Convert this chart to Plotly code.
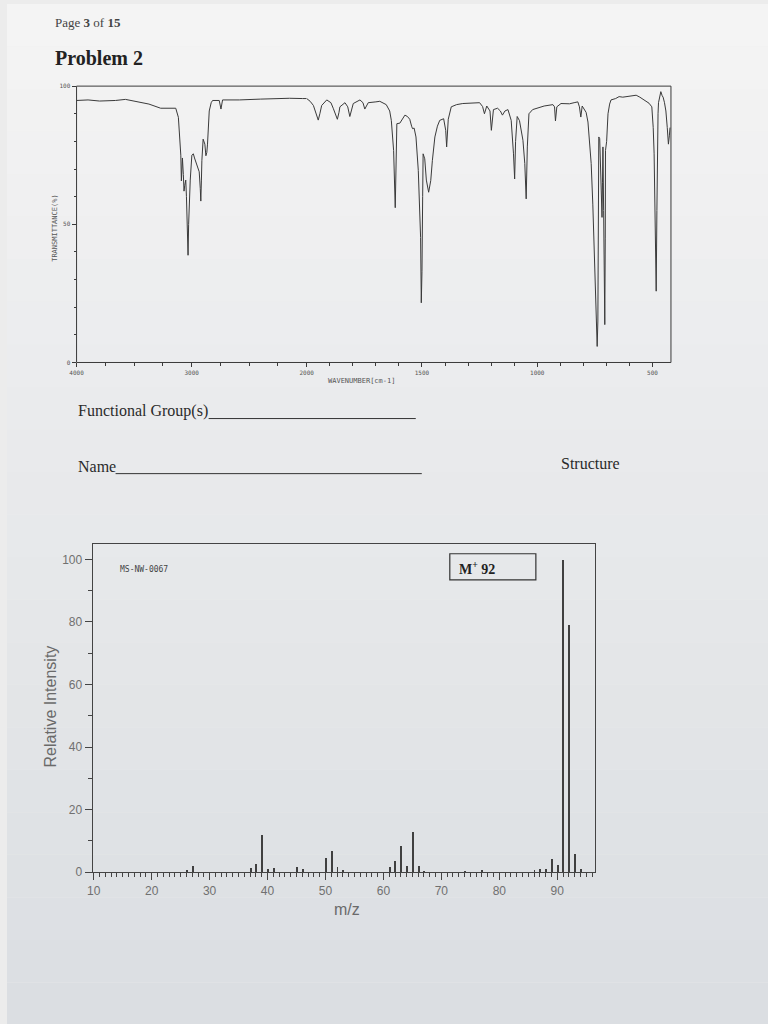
"""Worksheet page: IR spectrum and mass spectrum (Problem 2)."""
import plotly.graph_objects as go

# the photographed page comes out shifted and shrunk a little, so positions
# are given in window pixels and mapped back through that offset and scale
OX, OY, SX, SY = 7.5, 4.0, 0.98, 0.988
W, H = 776, 1032

# IR spectrum (wavenumber in cm-1, transmittance in %)
ir_wavenumber = [
    4000, 3900, 3800, 3662, 3575, 3480, 3371, 3269, 3200, 3138, 3115, 3100, 3094,
    3089, 3084, 3080, 3072, 3066, 3060, 3051, 3045, 3039, 3031, 3026, 3022, 3012,
    2998, 2985, 2975, 2960, 2949, 2934, 2925, 2920, 2915, 2911, 2900, 2885, 2876,
    2868, 2862, 2855, 2847, 2830, 2818, 2760, 2745, 2731, 2585, 2400, 2294, 2150,
    2035, 2000,
    1985, 1971, 1958, 1950, 1943, 1935, 1913, 1895, 1885, 1875, 1867, 1860, 1856,
    1834, 1822, 1813, 1806, 1798, 1769, 1756, 1748, 1740, 1733, 1700, 1683, 1655,
    1640, 1633, 1627, 1623, 1616, 1612, 1609, 1596, 1585, 1574, 1563, 1553, 1545,
    1541, 1534, 1530, 1526, 1516, 1506, 1503, 1500, 1497, 1495, 1488, 1481, 1471,
    1462, 1455, 1444, 1433, 1423, 1406, 1400, 1397, 1393, 1389, 1386, 1373, 1350,
    1323, 1280, 1250, 1237, 1229, 1219, 1205, 1199, 1194, 1190, 1172, 1160, 1151,
    1140, 1127, 1113, 1103, 1098, 1094, 1087, 1077, 1062, 1054, 1048, 1043, 1036,
    1020, 1004, 970, 932, 925, 921, 915, 897, 860, 840, 824, 817, 811, 805, 795,
    788, 780, 774, 766, 759, 753, 748, 742, 740, 737, 735, 733, 729, 727, 723, 719,
    717, 715, 712, 710, 707, 705, 704, 699, 693, 686, 680, 660, 645, 629, 610, 590,
    571, 555, 540, 528, 515, 503, 497, 493, 489, 484, 481, 480, 476, 474, 468, 464,
    458, 454, 448, 442, 436, 431, 427, 424,
]
ir_transmittance = [
    94.8, 95.0, 94.6, 94.8, 95.2, 94.5, 93.5, 92.0, 92.0, 92.0, 88.7, 80.0, 75.0,
    65.7, 72.0, 74.0, 68.0, 62.0, 64.0, 66.0, 60.0, 51.0, 38.8, 50.0, 55.8, 66.0,
    75.0, 75.5, 74.0, 72.0, 70.4, 69.0, 63.0, 58.4, 66.0, 73.0, 80.8, 79.0, 74.8,
    76.0, 79.0, 86.0, 91.0, 94.0, 94.8, 94.8, 91.7, 95.0, 95.0, 95.3, 95.5, 95.6,
    95.5, 95.5,
    94.5, 93.0, 89.5, 87.7, 90.0, 93.0, 95.0, 94.0, 92.0, 89.5, 88.0, 90.5, 92.5,
    94.0, 92.5, 89.0, 91.0, 93.7, 95.0, 94.0, 91.7, 93.0, 94.0, 94.3, 94.5, 93.3,
    91.0, 87.6, 82.0, 76.7, 56.0, 70.0, 86.4, 86.6, 88.0, 89.5, 89.0, 88.0, 85.5,
    84.6, 84.8, 83.0, 81.6, 69.5, 45.2, 21.6, 33.0, 60.0, 75.5, 73.7, 66.0, 61.6,
    65.8, 73.0, 81.6, 85.5, 87.6, 88.2, 86.0, 84.0, 78.0, 84.0, 88.0, 92.5, 93.3,
    93.7, 94.0, 94.0, 92.6, 90.0, 92.8, 91.0, 84.0, 88.0, 91.5, 92.0, 91.0, 89.5,
    91.0, 91.5, 87.6, 75.5, 66.4, 80.0, 89.0, 87.5, 80.4, 72.0, 59.2, 78.0, 90.0,
    91.5, 92.0, 92.8, 93.3, 92.5, 87.4, 92.5, 93.7, 93.6, 94.0, 94.3, 92.5, 88.8,
    92.8, 91.5, 90.5, 87.0, 81.6, 72.0, 57.3, 42.0, 27.0, 13.7, 5.8, 15.0, 60.0,
    81.6, 81.0, 75.0, 63.4, 52.5, 65.0, 78.0, 55.0, 33.0, 13.7, 45.0, 76.7, 80.0,
    90.0, 93.5, 95.0, 95.5, 96.2, 96.0, 96.3, 96.5, 96.7, 96.0, 95.2, 94.5, 93.8,
    92.5, 85.0, 75.5, 52.0, 25.8, 55.0, 70.0, 90.0, 94.0, 97.0, 98.0, 96.5, 96.0,
    94.0, 91.0, 85.0, 79.0, 82.0, 85.0,
]

# mass spectrum (m/z, relative intensity)
ms_mz = [26, 27, 37, 38, 39, 40, 41, 45, 46, 50, 51, 52, 53, 61, 62, 63, 64, 65,
         66, 67, 74, 77, 86, 87, 88, 89, 90, 91, 92, 93, 94]
ms_intensity = [0.8, 2.2, 1.5, 2.7, 12.0, 1.0, 1.3, 1.6, 1.0, 4.5, 7.0, 1.8, 0.8,
                1.9, 3.7, 8.3, 2.1, 13.0, 2.0, 0.6, 0.6, 0.8, 0.8, 1.0, 1.0, 4.2,
                2.4, 100.0, 79.0, 5.8, 1.0]

ir_ticks_left = [4000, 3000, 2000]
ir_ticks_right = [1500, 1000, 500]
ir_yticks = [0, 50, 100]
ms_xticks = [10, 20, 30, 40, 50, 60, 70, 80, 90]
ms_yticks = [0, 20, 40, 60, 80, 100]


def px(x):
    # window pixel -> paper fraction
    return (x - OX) / SX / W


def py(y):
    return 1 - (y - OY) / SY / H


INK = "#3a3a3a"
MONO = dict(family="DejaVu Sans Mono", size=6, color="#555")
SANS = dict(family="Liberation Sans", size=12, color="#707070")
SERIF = "Liberation Serif"

fig = go.Figure()

left = [(w, t) for w, t in zip(ir_wavenumber, ir_transmittance) if w >= 2000]
right = [(w, t) for w, t in zip(ir_wavenumber, ir_transmittance) if w <= 2000]
fig.add_trace(go.Scatter(
    x=[p[0] for p in left], y=[p[1] for p in left], xaxis="x", yaxis="y",
    mode="lines", line=dict(color=INK, width=1), showlegend=False,
))
fig.add_trace(go.Scatter(
    x=[p[0] for p in right], y=[p[1] for p in right], xaxis="x2", yaxis="y",
    mode="lines", line=dict(color=INK, width=1), showlegend=False,
))
fig.add_trace(go.Bar(
    x=ms_mz, y=ms_intensity, xaxis="x3", yaxis="y3", width=0.17,
    marker=dict(color="#404040", line_width=0), showlegend=False,
))

ir_axis = dict(
    ticks="outside", ticklen=4, tickcolor=INK, tickwidth=1, showgrid=False,
    zeroline=False, showline=False, tickfont=MONO,
)
ms_axis = dict(
    ticks="outside", ticklen=7, tickcolor="#444", showgrid=False, zeroline=False,
    showline=True, mirror=True, linecolor="#444", linewidth=1, tickfont=SANS,
)

# paper colour: light at the top, greyer toward the bottom of the photo
bands = []
n = 24
top, bottom = (244, 244, 244), (219, 222, 226)
for i in range(n):
    f = i / (n - 1)
    c = tuple(round(a + (b - a) * f) for a, b in zip(top, bottom))
    bands.append(dict(
        type="rect", xref="paper", yref="paper", layer="below",
        x0=0, x1=1, y0=1 - (i + 1) / n, y1=1 - i / n,
        fillcolor="rgb(%d,%d,%d)" % c, line_width=0,
    ))

shapes = bands + [
    # IR frame
    dict(type="rect", xref="paper", yref="paper", x0=px(77), x1=px(671),
         y0=py(362), y1=py(86), line=dict(color=INK, width=1)),
    # answer lines
    dict(type="line", xref="paper", yref="paper", x0=px(209), x1=px(416),
         y0=py(418), y1=py(418), line=dict(color="#333", width=1)),
    dict(type="line", xref="paper", yref="paper", x0=px(116), x1=px(422),
         y0=py(473), y1=py(473), line=dict(color="#333", width=1)),
    # M+ box
    dict(type="rect", xref="paper", yref="paper", x0=px(450), x1=px(536),
         y0=py(579), y1=py(553), line=dict(color="#333", width=1.2)),
]


def note(text, x, y, size, family=SERIF, color="#2a2a2a", xanchor="left", angle=0):
    return dict(
        text=text, x=px(x), y=py(y), xref="paper", yref="paper", showarrow=False,
        xanchor=xanchor, yanchor="middle", textangle=angle,
        font=dict(family=family, size=size, color=color),
    )


annotations = [
    note("Page <b>3</b> of <b>15</b>", 53, 22, 13, color="#444"),
    note("<b>Problem 2</b>", 53, 58, 20, color="#222"),
    note("TRANSMITTANCE(%)", 56, 228, 7, family="DejaVu Sans Mono",
         color="#555", xanchor="center", angle=-90),
    note("WAVENUMBER[cm-1]", 362, 380, 7, family="DejaVu Sans Mono",
         color="#555", xanchor="center"),
    note("Functional Group(s)", 76, 410, 16),
    note("Name", 76, 466, 16),
    note("Structure", 559, 463, 16),
    note("MS-NW-0067", 118, 569, 8, family="DejaVu Sans Mono", color="#444"),
    note("<b>M<sup>+</sup> 92</b>", 457, 567, 14, color="#222"),
    note("Relative Intensity", 51, 706, 16, family="Liberation Sans",
         color="#6a6a6a", xanchor="center", angle=-90),
    note("m/z", 347, 908, 16, family="Liberation Sans", color="#6a6a6a",
         xanchor="center"),
]

fig.update_layout(
    width=W, height=H, margin=dict(l=0, r=0, t=0, b=0),
    paper_bgcolor="#ececec", plot_bgcolor="rgba(0,0,0,0)",
    showlegend=False, bargap=0,
    xaxis=dict(ir_axis, domain=[px(77), px(307)], range=[4000, 2000], anchor="y",
               tickvals=ir_ticks_left,
               minor=dict(dtick=250, ticks="outside", ticklen=3, tickcolor=INK)),
    xaxis2=dict(ir_axis, domain=[px(307), px(671)], range=[2000, 420], anchor="y",
                tickvals=ir_ticks_right,
                minor=dict(dtick=100, ticks="outside", ticklen=3, tickcolor=INK)),
    yaxis=dict(ir_axis, domain=[py(362), py(86)], range=[0, 100], anchor="x",
               tickvals=ir_yticks,
               minor=dict(dtick=10, ticks="outside", ticklen=2, tickcolor=INK)),
    xaxis3=dict(ms_axis, domain=[px(93), px(595)], range=[9.8, 96.5], anchor="y3",
                tickvals=ms_xticks,
                minor=dict(dtick=1, ticks="outside", ticklen=4, tickcolor="#444")),
    yaxis3=dict(ms_axis, domain=[py(871), py(543)], range=[0, 105], anchor="x3",
                tickvals=ms_yticks,
                minor=dict(dtick=10, ticks="outside", ticklen=4, tickcolor="#444")),
    shapes=shapes,
    annotations=annotations,
)

fig.write_html(
    "out.html",
    config={"displayModeBar": False},
    post_script="document.body.style.margin='0';document.body.style.overflow='hidden';"
                "document.body.style.background='#f2f2f2';"
                "document.documentElement.style.background='#f2f2f2';",
)
